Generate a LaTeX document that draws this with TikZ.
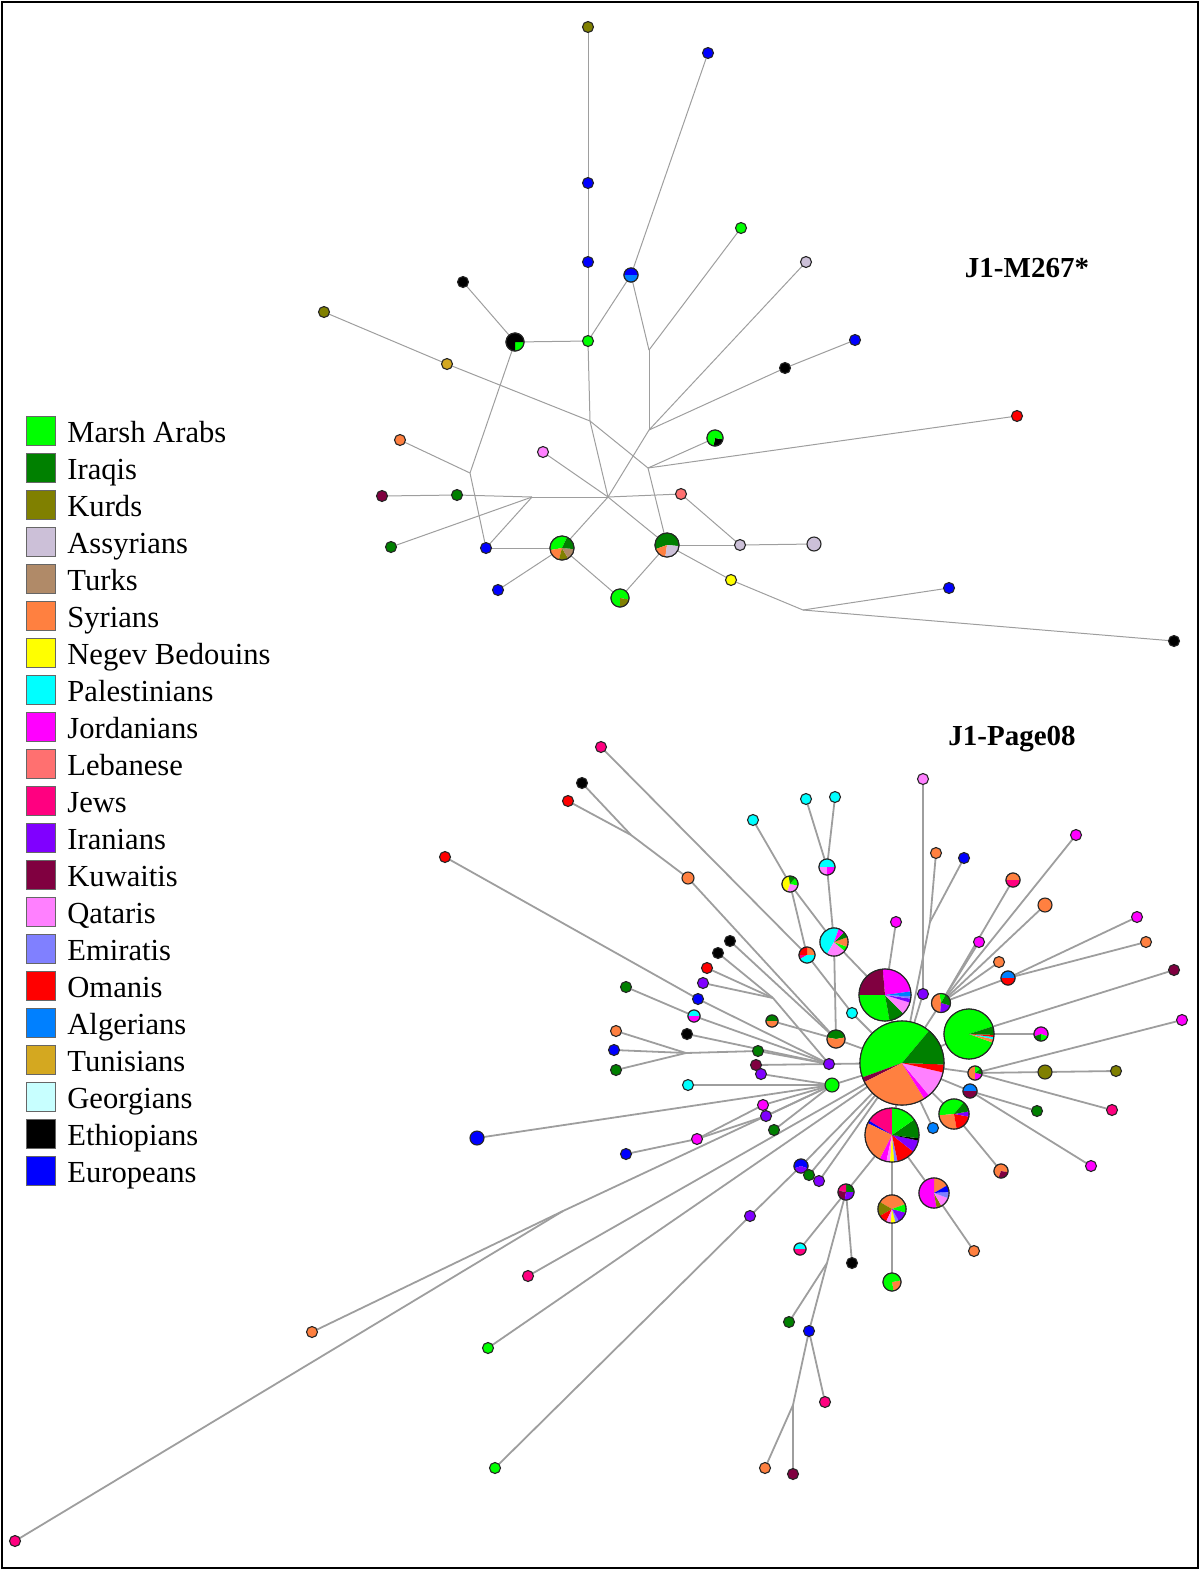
\documentclass[tikz,border=0pt]{standalone}
\usepackage{fontspec}
\setmainfont{Liberation Serif}
\usetikzlibrary{backgrounds}

\definecolor{marsh}{RGB}{0,255,0}
\definecolor{iraqi}{RGB}{0,128,0}
\definecolor{kurd}{RGB}{128,128,0}
\definecolor{assyr}{RGB}{204,192,216}
\definecolor{turk}{RGB}{176,138,104}
\definecolor{syrian}{RGB}{255,128,64}
\definecolor{negev}{RGB}{255,255,0}
\definecolor{palest}{RGB}{0,255,255}
\definecolor{jordan}{RGB}{255,0,255}
\definecolor{leban}{RGB}{255,112,112}
\definecolor{jews}{RGB}{255,0,128}
\definecolor{iranian}{RGB}{128,0,255}
\definecolor{kuwaiti}{RGB}{128,0,64}
\definecolor{qatari}{RGB}{255,128,255}
\definecolor{emirati}{RGB}{128,128,255}
\definecolor{omani}{RGB}{255,0,0}
\definecolor{algerian}{RGB}{0,128,255}
\definecolor{tunis}{RGB}{212,168,32}
\definecolor{georgian}{RGB}{200,255,255}
\definecolor{ethiop}{RGB}{0,0,0}
\definecolor{european}{RGB}{0,0,255}
\definecolor{edgegray}{RGB}{158,158,158}

\tikzset{
  hap/.style={circle, draw=black!85, line width=0.55pt, inner sep=0pt, outer sep=0pt},
  dot/.style={hap, minimum size=5.5pt},
  link/.style={draw=edgegray, line width=0.5pt},
  blink/.style={draw=edgegray, line width=0.9pt},
  legbox/.style={draw=black!60, line width=0.3pt, minimum width=14.5pt, minimum height=14.5pt, inner sep=0pt},
  legtext/.style={anchor=base west, inner sep=0pt, font=\fontsize{15.3}{18}\selectfont},
  title/.style={font=\bfseries\fontsize{14.5}{16}\selectfont}
}

% pie haplotype: name, position, radius (px), slices start/end/colour
\newcommand{\pienode}[4]{%
  \node[hap, minimum size=#3 pt] (#1) at (#2) {};
  \pgfmathsetmacro{\pierad}{#3*0.5}
  \foreach \a/\b/\c in {#4}
    {\fill[\c] (#1.center) -- ++(\a:\pierad pt) arc[start angle=\a, end angle=\b, radius=\pierad pt] -- cycle;}
  \draw[black!85, line width=0.55pt] (#1.center) circle[radius=\pierad pt];
}

\begin{document}
\begin{tikzpicture}[x=0.5pt, y=-0.5pt]
\useasboundingbox (0,0) rectangle (1200,1570);

% legend
\foreach \c/\t [count=\i from 0] in {marsh/Marsh Arabs, iraqi/Iraqis, kurd/Kurds, assyr/Assyrians, turk/Turks,
    syrian/Syrians, negev/Negev Bedouins, palest/Palestinians, jordan/Jordanians, leban/Lebanese, jews/Jews,
    iranian/Iranians, kuwaiti/Kuwaitis, qatari/Qataris, emirati/Emiratis, omani/Omanis, algerian/Algerians,
    tunis/Tunisians, georgian/Georgians, ethiop/Ethiopians, european/Europeans}{
  \node[legbox, fill=\c] (key\i) at (41,{431+37*\i}) {};
  \node[legtext] (lab\i) at (67,{442+37*\i}) {\t};
}

\node[title] (ttl1) at (1027,268) {J1-M267*};
\node[title] (ttl2) at (1012,739) {J1-Page08};

% ---- J1-M267* network ----
\node[dot, fill=kurd] (t1) at (588,27) {};
\node[dot, fill=european] (t2) at (708,53) {};
\node[dot, fill=european] (t3) at (588,183) {};
\node[dot, fill=european] (t4) at (588,262) {};
\pienode{t5}{631,275}{7}{0/180/european, 180/360/algerian}
\node[dot, fill=marsh] (t6) at (741,228) {};
\node[dot, fill=assyr] (t7) at (806,262) {};
\node[dot, fill=ethiop] (t8) at (463,282) {};
\node[dot, fill=kurd] (t9) at (324,312) {};
\pienode{t10}{515,342}{9}{-90/0/marsh, 0/270/ethiop}
\node[dot, fill=marsh] (t11) at (588,341) {};
\node[dot, fill=european] (t12) at (855,340) {};
\node[dot, fill=ethiop] (t13) at (785,368) {};
\node[dot, fill=tunis] (t14) at (447,364) {};
\node[dot, fill=omani] (t15) at (1017,416) {};
\pienode{t16}{715,438}{8}{-100/-10/ethiop, -10/260/marsh}
\node[dot, fill=syrian] (t17) at (400,440) {};
\node[dot, fill=qatari] (t18) at (543,452) {};
\node[dot, fill=kuwaiti] (t19) at (382,496) {};
\node[dot, fill=iraqi] (t20) at (457,495) {};
\node[dot, fill=leban] (t21) at (681,494) {};
\node[dot, fill=iraqi] (t22) at (391,547) {};
\node[dot, fill=european] (t23) at (486,548) {};
\pienode{t24}{562,548}{12}{65/190/marsh, 190/255/syrian, 255/300/kurd, 300/355/turk, 355/425/iraqi}
\pienode{t25}{667,545}{12}{-5/200/iraqi, 200/262/syrian, 262/355/assyr}
\node[dot, fill=assyr] (t26) at (740,545) {};
\node[hap, fill=assyr, minimum size=7pt] (t27) at (814,544) {};
\node[dot, fill=european] (t28) at (498,590) {};
\pienode{t29}{620,598}{9}{-10/270/marsh, 270/350/kurd}
\node[dot, fill=negev] (t30) at (731,580) {};
\node[dot, fill=european] (t31) at (949,588) {};
\node[dot, fill=ethiop] (t32) at (1174,641) {};

\coordinate (ma) at (649,350);
\coordinate (m1) at (470,473);
\coordinate (m2) at (590,421);
\coordinate (m3) at (608,497);
\coordinate (m4) at (648,468);
\coordinate (m5) at (649,430);
\coordinate (m6) at (532,497);
\coordinate (m7) at (803,610);

\begin{scope}[on background layer]
\draw[link] (t1) -- (t3); \draw[link] (t3) -- (t4); \draw[link] (t4) -- (t11);
\draw[link] (t11) -- (m2); \draw[link] (t11) -- (t10); \draw[link] (t11) -- (t5);
\draw[link] (t10) -- (t8); \draw[link] (t10) -- (m1); \draw[link] (t5) -- (t2);
\draw[link] (t5) -- (ma); \draw[link] (ma) -- (t6); \draw[link] (ma) -- (m5);
\draw[link] (m5) -- (t7); \draw[link] (m5) -- (t13); \draw[link] (t13) -- (t12);
\draw[link] (t9) -- (t14); \draw[link] (t14) -- (m2); \draw[link] (m2) -- (m3);
\draw[link] (m2) -- (m4); \draw[link] (m4) -- (t16); \draw[link] (m4) -- (t15);
\draw[link] (m4) -- (t25); \draw[link] (m1) -- (t17); \draw[link] (m1) -- (t23);
\draw[link] (m3) -- (t18); \draw[link] (m3) -- (t21); \draw[link] (m3) -- (m5);
\draw[link] (m3) -- (t24); \draw[link] (m3) -- (t25); \draw[link] (t19) -- (t20);
\draw[link] (t20) -- (m6); \draw[link] (m6) -- (m3); \draw[link] (m6) -- (t22);
\draw[link] (m6) -- (t23); \draw[link] (t23) -- (t24); \draw[link] (t24) -- (t28);
\draw[link] (t24) -- (t29); \draw[link] (t29) -- (t25); \draw[link] (t25) -- (t26);
\draw[link] (t26) -- (t27); \draw[link] (t21) -- (t26); \draw[link] (t25) -- (t30);
\draw[link] (t30) -- (m7); \draw[link] (m7) -- (t31); \draw[link] (m7) -- (t32);
\end{scope}

% ---- J1-Page08 network ----
\pienode{h0}{902,1063}{42}{50/200/marsh, 200/207/kuwaiti, 207/302/syrian, 302/310/jordan, 310/347/qatari, 347/358/omani, 358/410/iraqi}
\pienode{h1}{885,995}{26}{8/95/jordan, 95/180/kuwaiti, 180/280/marsh, 280/315/iraqi, 315/343/qatari, 343/352/iranian, 352/357/emirati, 357/368/algerian}
\pienode{h2}{969,1034}{25}{18/340/marsh, 340/348/syrian, 348/353/palest, 353/358/omani, 358/378/iraqi}
\pienode{h3}{892,1135}{27}{90/148/jews, 148/154/european, 154/243/syrian, 243/258/jordan, 258/266/qatari, 266/275/negev, 275/282/emirati, 282/322/omani, 322/348/iranian, 348/353/ethiop, 353/395/iraqi, 395/450/marsh}
\pienode{h4}{892,1209}{14}{20/150/syrian, 150/210/kurd, 210/245/omani, 245/265/qatari, 265/285/negev, 285/300/emirati, 300/345/iranian, 345/380/marsh}
\pienode{h5}{934,1193}{15}{30/90/syrian, 90/280/jordan, 280/300/kurd, 300/340/qatari, 340/365/emirati, 365/390/european}
\pienode{h6}{954,1114}{15}{50/185/marsh, 185/280/syrian, 280/350/omani, 350/370/iranian, 370/410/iraqi}
\pienode{h7}{941,1003}{9.5}{60/100/marsh, 100/265/syrian, 265/345/iranian, 345/420/iraqi}
\pienode{h8}{834,942}{14}{70/240/palest, 240/320/qatari, 320/340/marsh, 340/380/syrian, 380/405/iraqi, 405/430/jordan}
\pienode{pcm}{827,867}{8}{0/180/palest, 180/270/qatari, 270/360/jordan}
\pienode{pygp}{790,884}{8}{100/250/negev, 250/350/qatari, 350/410/marsh, 410/460/iraqi}
\pienode{pocr}{807,955}{8}{0/90/syrian, 90/180/omani, 180/210/jews, 210/360/palest}
\pienode{plj}{1013,880}{7}{0/180/syrian, 180/360/jews}
\pienode{pbr}{1008,978}{7}{0/180/algerian, 180/360/omani}
\pienode{pmi}{1041,1034}{7}{-20/200/jordan, 200/270/iraqi, 270/340/marsh}
\pienode{popi}{975,1073}{7}{90/270/syrian, 270/350/jordan, 350/400/iraqi, 400/450/marsh}
\pienode{pbk}{970,1091}{7}{0/180/algerian, 180/360/kuwaiti}
\pienode{pok}{1001,1171}{7}{-10/250/syrian, 250/350/kuwaiti}
\pienode{pio}{836,1039}{9}{10/170/iraqi, 170/370/syrian}
\pienode{pio2}{772,1021}{6}{0/180/iraqi, 180/360/syrian}
\pienode{pcmg}{694,1016}{6}{0/180/palest, 180/360/jordan}
\pienode{pmix}{846,1192}{8}{0/90/iraqi, 90/170/jews, 170/260/kuwaiti, 260/360/iranian}
\pienode{pcj}{800,1249}{6}{0/180/palest, 180/360/jews}
\pienode{pbp}{801,1166}{7}{-20/200/european, 200/340/iranian}
\pienode{pgs}{892,1282}{9}{-80/10/syrian, 10/280/marsh}

\node[dot, fill=jews] (b1) at (601,747) {};
\node[dot, fill=ethiop] (b2) at (582,783) {};
\node[dot, fill=omani] (b3) at (568,801) {};
\node[dot, fill=palest] (b4) at (753,820) {};
\node[dot, fill=palest] (b5) at (806,799) {};
\node[dot, fill=palest] (b6) at (835,797) {};
\node[dot, fill=qatari] (b7) at (923,779) {};
\node[dot, fill=syrian] (b8) at (936,853) {};
\node[dot, fill=european] (b9) at (964,858) {};
\node[dot, fill=jordan] (b10) at (1076,835) {};
\node[dot, fill=jordan] (b11) at (1137,917) {};
\node[dot, fill=syrian] (b12) at (1146,942) {};
\node[dot, fill=kuwaiti] (b13) at (1174,970) {};
\node[dot, fill=jordan] (b14) at (1182,1020) {};
\node[dot, fill=jordan] (b15) at (979,942) {};
\node[dot, fill=syrian] (b16) at (999,962) {};
\node[dot, fill=jordan] (b17) at (896,922) {};
\node[dot, fill=iranian] (b18) at (923,994) {};
\node[dot, fill=palest] (b19) at (852,1013) {};
\node[hap, fill=syrian, minimum size=6pt] (b20) at (688,878) {};
\node[dot, fill=ethiop] (b21) at (730,941) {};
\node[dot, fill=ethiop] (b22) at (718,953) {};
\node[dot, fill=omani] (b23) at (707,968) {};
\node[dot, fill=iranian] (b24) at (703,983) {};
\node[dot, fill=iraqi] (b25) at (626,987) {};
\node[dot, fill=european] (b26) at (698,999) {};
\node[dot, fill=omani] (b27) at (445,857) {};
\node[dot, fill=syrian] (b28) at (616,1031) {};
\node[dot, fill=european] (b29) at (614,1050) {};
\node[dot, fill=iraqi] (b30) at (616,1070) {};
\node[dot, fill=ethiop] (b31) at (687,1034) {};
\node[dot, fill=iraqi] (b32) at (758,1051) {};
\node[dot, fill=kuwaiti] (b33) at (756,1065) {};
\node[dot, fill=iranian] (b34) at (761,1074) {};
\node[dot, fill=iranian] (b35) at (829,1064) {};
\node[hap, fill=marsh, minimum size=7pt] (b36) at (832,1085) {};
\node[dot, fill=palest] (b37) at (688,1085) {};
\node[dot, fill=jordan] (b38) at (763,1105) {};
\node[dot, fill=iranian] (b39) at (766,1116) {};
\node[dot, fill=iraqi] (b40) at (774,1130) {};
\node[dot, fill=jordan] (b41) at (697,1139) {};
\node[dot, fill=european] (b42) at (626,1154) {};
\node[hap, fill=european, minimum size=7pt] (b43) at (477,1138) {};
\node[dot, fill=iraqi] (b44) at (809,1175) {};
\node[dot, fill=iranian] (b45) at (819,1181) {};
\node[dot, fill=iranian] (b46) at (750,1216) {};
\node[dot, fill=ethiop] (b47) at (852,1263) {};
\node[dot, fill=jews] (b48) at (528,1276) {};
\node[dot, fill=syrian] (b49) at (312,1332) {};
\node[dot, fill=marsh] (b50) at (488,1348) {};
\node[dot, fill=marsh] (b51) at (495,1468) {};
\node[dot, fill=jews] (b52) at (15,1541) {};
\node[dot, fill=iraqi] (b53) at (789,1322) {};
\node[dot, fill=european] (b54) at (809,1331) {};
\node[dot, fill=jews] (b55) at (825,1402) {};
\node[dot, fill=syrian] (b56) at (765,1468) {};
\node[dot, fill=kuwaiti] (b57) at (793,1474) {};
\node[dot, fill=syrian] (b58) at (974,1251) {};
\node[dot, fill=algerian] (b59) at (933,1128) {};
\node[hap, fill=kurd, minimum size=7pt] (b60) at (1045,1072) {};
\node[dot, fill=kurd] (b61) at (1116,1071) {};
\node[dot, fill=iraqi] (b62) at (1037,1111) {};
\node[dot, fill=jews] (b63) at (1112,1110) {};
\node[dot, fill=jordan] (b64) at (1091,1166) {};
\node[hap, fill=syrian, minimum size=7pt] (b65) at (1045,905) {};

\coordinate (ja) at (631,835);
\coordinate (jb) at (930,922);
\coordinate (jc) at (563,1211);
\coordinate (jd) at (827,1263);
\coordinate (je) at (793,1405);
\coordinate (jf) at (686,1053);
\coordinate (jg) at (773,998);

\begin{scope}[on background layer]
\draw[blink] (b52) -- (jc); \draw[blink] (b49) -- (jc); \draw[blink] (jc) -- (b36);
\draw[blink] (b48) -- (h0); \draw[blink] (b50) -- (h0); \draw[blink] (b51) -- (b46);
\draw[blink] (b46) -- (pbp); \draw[blink] (pbp) -- (h0); \draw[blink] (b43) -- (b36);
\draw[blink] (b42) -- (b41); \draw[blink] (b41) -- (b38); \draw[blink] (b41) -- (b39);
\draw[blink] (b38) -- (b36); \draw[blink] (b39) -- (b36); \draw[blink] (b40) -- (b36);
\draw[blink] (b37) -- (b36); \draw[blink] (b34) -- (b36); \draw[blink] (b36) -- (h0);
\draw[blink] (b33) -- (b35); \draw[blink] (b32) -- (b35); \draw[blink] (jf) -- (b32);
\draw[blink] (b28) -- (jf); \draw[blink] (b29) -- (jf); \draw[blink] (b30) -- (jf);
\draw[blink] (b31) -- (b35); \draw[blink] (pcmg) -- (b35); \draw[blink] (b25) -- (pcmg);
\draw[blink] (b26) -- (b35); \draw[blink] (b27) -- (b26); \draw[blink] (jg) -- (b35);
\draw[blink] (b22) -- (jg); \draw[blink] (b23) -- (jg); \draw[blink] (b24) -- (jg);
\draw[blink] (b21) -- (pio); \draw[blink] (b35) -- (h0); \draw[blink] (b20) -- (pio);
\draw[blink] (ja) -- (b20); \draw[blink] (b2) -- (ja); \draw[blink] (b3) -- (ja);
\draw[blink] (pio2) -- (pio); \draw[blink] (pio) -- (h0); \draw[blink] (b1) -- (pocr);
\draw[blink] (b4) -- (pygp); \draw[blink] (pygp) -- (pocr); \draw[blink] (pygp) -- (h8);
\draw[blink] (pocr) -- (b19); \draw[blink] (b19) -- (h0); \draw[blink] (b5) -- (pcm);
\draw[blink] (b6) -- (pcm); \draw[blink] (pcm) -- (h8); \draw[blink] (h8) -- (pio);
\draw[blink] (h8) -- (h1); \draw[blink] (b17) -- (h1); \draw[blink] (h1) -- (h0);
\draw[blink] (b7) -- (b18); \draw[blink] (b18) -- (h0); \draw[blink] (b8) -- (jb);
\draw[blink] (b9) -- (jb); \draw[blink] (jb) -- (h0); \draw[blink] (h7) -- (h0);
\draw[blink] (h7) -- (b15); \draw[blink] (h7) -- (plj); \draw[blink] (h7) -- (b65);
\draw[blink] (h7) -- (b10); \draw[blink] (h7) -- (b16); \draw[blink] (h7) -- (pbr);
\draw[blink] (pbr) -- (b11); \draw[blink] (pbr) -- (b12); \draw[blink] (h2) -- (h0);
\draw[blink] (h2) -- (pmi); \draw[blink] (h2) -- (b13); \draw[blink] (popi) -- (h0);
\draw[blink] (popi) -- (b60); \draw[blink] (b60) -- (b61); \draw[blink] (popi) -- (b14);
\draw[blink] (popi) -- (b63); \draw[blink] (pbk) -- (h0); \draw[blink] (pbk) -- (b62);
\draw[blink] (pbk) -- (b64); \draw[blink] (h6) -- (h0); \draw[blink] (h6) -- (pok);
\draw[blink] (b59) -- (h0); \draw[blink] (h3) -- (h0); \draw[blink] (h3) -- (h4);
\draw[blink] (h4) -- (pgs); \draw[blink] (h3) -- (h5); \draw[blink] (h5) -- (b58);
\draw[blink] (pmix) -- (h3); \draw[blink] (b44) -- (h0); \draw[blink] (b45) -- (h0);
\draw[blink] (pmix) -- (b47); \draw[blink] (pmix) -- (pcj); \draw[blink] (pmix) -- (jd);
\draw[blink] (jd) -- (b54); \draw[blink] (b53) -- (jd); \draw[blink] (b54) -- (b55);
\draw[blink] (b54) -- (je); \draw[blink] (je) -- (b56); \draw[blink] (je) -- (b57);
\end{scope}

\draw[line width=1pt] (2,2) rectangle (1198,1568);
\end{tikzpicture}
\end{document}
